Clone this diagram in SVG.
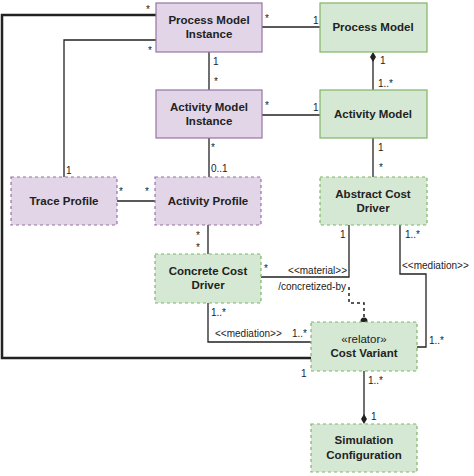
<svg xmlns="http://www.w3.org/2000/svg" width="474" height="476" viewBox="0 0 474 476">
<style>
.p{fill:#e1d5e7;stroke:#9673a6;stroke-width:1.2}
.g{fill:#d5e8d4;stroke:#82b366;stroke-width:1.2}
.d{stroke-dasharray:3 3}
.t{font-family:"Liberation Sans",Arial,sans-serif;font-size:11.5px;font-weight:bold;fill:#222;text-anchor:middle}
.tn{font-family:"Liberation Sans",Arial,sans-serif;font-size:11.5px;fill:#222;text-anchor:middle}
.l text{font-family:"Liberation Sans",Arial,sans-serif;font-size:10px;fill:#222;stroke:none}
.c{fill:none;stroke:#222;stroke-width:1.3}
</style>
<rect width="474" height="476" fill="#fff"/>
<g id="connectors">
<polyline class="c" points="156,15 2,15 2,358 311,358" style="stroke-width:2.5"/>
<polyline class="c" points="156,40 64,40 64,177"/>
<line class="c" x1="262" y1="27" x2="320" y2="27"/>
<line class="c" x1="209" y1="52" x2="209" y2="90"/>
<line class="c" x1="373" y1="59" x2="373" y2="90"/>
<polygon points="373,52 376,57 373,62 370,57" fill="#222"/>
<line class="c" x1="262" y1="115" x2="320" y2="115"/>
<line class="c" x1="209" y1="138" x2="209" y2="177"/>
<line class="c" x1="373" y1="138" x2="373" y2="177"/>
<line class="c" x1="117" y1="201" x2="155" y2="201"/>
<line class="c" x1="208" y1="225" x2="208" y2="254"/>
<polyline class="c" points="261,277 349,277 349,225"/>
<polyline class="c" points="349,287 349,303 364,303 364,320" style="stroke-dasharray:3 3;stroke-width:1.5"/>
<circle cx="364" cy="321" r="3.5" fill="#222"/>
<polyline class="c" points="400,225 400,274 426,274 426,347 417,347"/>
<polyline class="c" points="208,303 208,342 311,342"/>
<line class="c" x1="364" y1="371" x2="364" y2="417"/>
<polygon points="364,414 367,419 364,424 361,419" fill="#222"/>
<g class="l">
<text x="146" y="13">*</text>
<text x="148" y="54">*</text>
<text x="66" y="174">1</text>
<text x="301" y="377">1</text>
<text x="265" y="22">*</text>
<text x="313" y="24">1</text>
<text x="213" y="65">1</text>
<text x="214" y="85">*</text>
<text x="380" y="64">1</text>
<text x="378" y="87">1..*</text>
<text x="265" y="109">*</text>
<text x="313" y="111">1</text>
<text x="211" y="151">*</text>
<text x="211" y="172">0..1</text>
<text x="378" y="151">1</text>
<text x="379" y="171">*</text>
<text x="119" y="195">*</text>
<text x="145" y="195">*</text>
<text x="196" y="239">*</text>
<text x="196" y="251">*</text>
<text x="264" y="272">*</text>
<text x="340" y="238">1</text>
<text x="347" y="274" text-anchor="end">&lt;&lt;material&gt;&gt;</text>
<text x="346" y="290" text-anchor="end">/concretized-by</text>
<text x="405" y="238">1..*</text>
<text x="402" y="269">&lt;&lt;mediation&gt;&gt;</text>
<text x="429" y="344">1..*</text>
<text x="211" y="316">1..*</text>
<text x="215" y="337">&lt;&lt;mediation&gt;&gt;</text>
<text x="292" y="337">1..*</text>
<text x="368" y="384">1..*</text>
<text x="371" y="420">1</text>
</g>
</g>
<g id="process-model-instance"><rect class="p" x="156" y="3" width="106" height="49"/><text class="t" x="209" y="24">Process Model</text><text class="t" x="209" y="38">Instance</text></g>
<g id="process-model"><rect class="g" x="320" y="3" width="107" height="49"/><text class="t" x="373" y="31">Process Model</text></g>
<g id="activity-model-instance"><rect class="p" x="156" y="90" width="106" height="48"/><text class="t" x="209" y="111">Activity Model</text><text class="t" x="209" y="125">Instance</text></g>
<g id="activity-model"><rect class="g" x="320" y="90" width="107" height="48"/><text class="t" x="373" y="118">Activity Model</text></g>
<g id="trace-profile"><rect class="p d" x="11" y="177" width="106" height="48"/><text class="t" x="64" y="205">Trace Profile</text></g>
<g id="activity-profile"><rect class="p d" x="155" y="177" width="106" height="48"/><text class="t" x="208" y="205">Activity Profile</text></g>
<g id="abstract-cost-driver"><rect class="g d" x="320" y="177" width="107" height="48"/><text class="t" x="373" y="198">Abstract Cost</text><text class="t" x="373" y="212">Driver</text></g>
<g id="concrete-cost-driver"><rect class="g d" x="155" y="254" width="106" height="49"/><text class="t" x="208" y="275">Concrete Cost</text><text class="t" x="208" y="289">Driver</text></g>
<g id="cost-variant"><rect class="g d" x="311" y="322" width="106" height="49"/><text class="tn" x="364" y="343">«relator»</text><text class="t" x="364" y="357">Cost Variant</text></g>
<g id="simulation-configuration"><rect class="g d" x="311" y="424" width="106" height="48"/><text class="t" x="364" y="444">Simulation</text><text class="t" x="364" y="459">Configuration</text></g>
</svg>
